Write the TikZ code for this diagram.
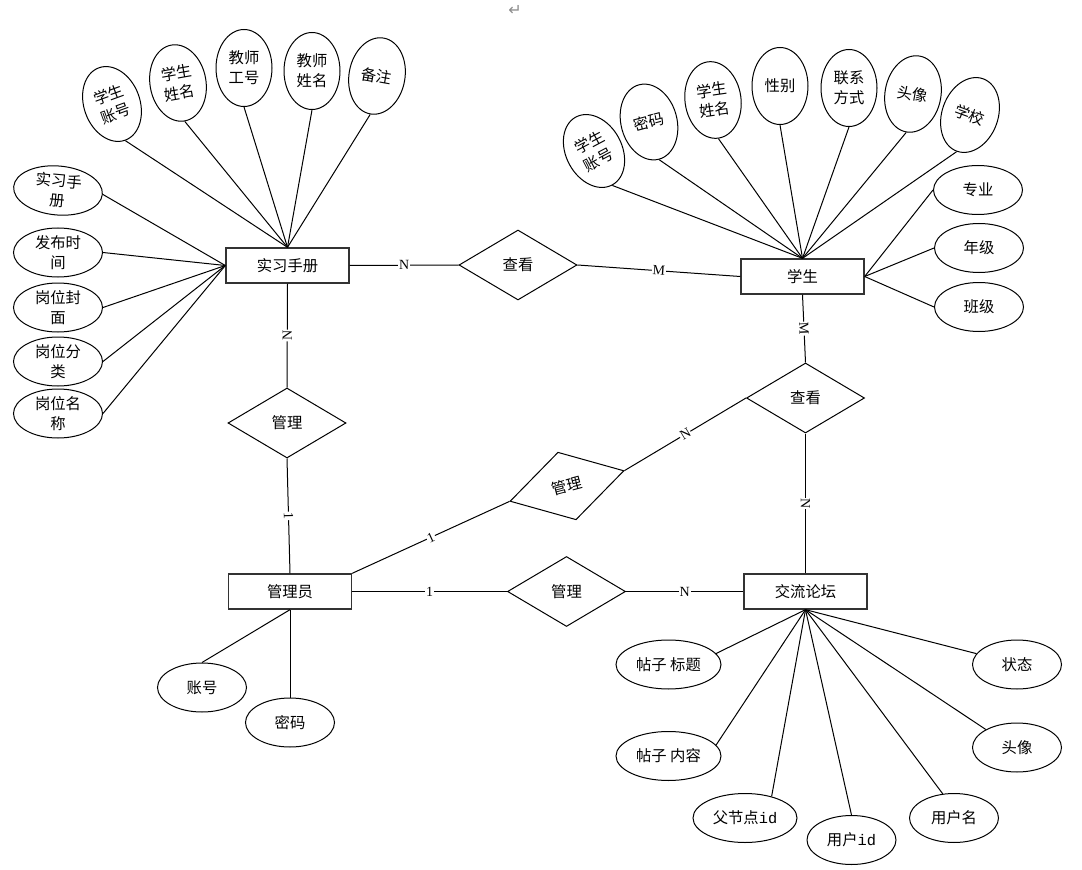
\documentclass[tikz,border=0pt]{standalone}
\usepackage{fontspec}
\setmainfont{Liberation Serif}
\setmonofont{Liberation Mono}
\newfontfamily\cjk{Noto Sans CJK SC}
\newfontfamily\dejavu{DejaVu Sans}
\usetikzlibrary{shapes.geometric}
\begin{document}
\begin{tikzpicture}[x=0.75pt,y=-0.75pt,line width=0.75pt,
  cjkfont/.style={font=\cjk\fontsize{11.5}{15}\selectfont},
  ent/.style={draw=black!80, line width=1pt, rectangle, minimum width=92.25pt, minimum height=26.25pt, inner sep=0pt, cjkfont},
  rel/.style={draw, diamond, minimum width=88.5pt, minimum height=52.5pt, inner sep=0pt, aspect=1.69, cjkfont},
  attrv/.style={draw, ellipse, minimum width=42pt, minimum height=57.75pt, inner sep=0pt, align=center, cjkfont},
  attrh/.style={draw, ellipse, minimum width=66.75pt, minimum height=36.75pt, inner sep=0pt, align=center, cjkfont},
  lbl/.style={fill=white, inner sep=0.6pt, sloped, font=\fontsize{10.5}{10.5}\selectfont}
]
\useasboundingbox (0,0) rectangle (1082,870);

% return mark
\node[text=black!45, font=\dejavu\fontsize{12}{12}\selectfont] (ret) at (515,10) {↵};

% entities
\node[ent] (manual) at (287.5,265.5) {实习手册};
\node[ent] (student) at (802.5,276.5) {学生};
\node[ent] (admin) at (290,591.5) {管理员};
\node[ent] (forum) at (805.5,591.5) {交流论坛};

% relationships
\node[rel] (see1) at (518,265) {查看};
\node[rel] (see2) at (805.5,398) {查看};
\node[rel] (mg1) at (287,423) {管理};
\node[rel, rotate=15] (mg2) at (567,486) {管理};
\node[rel] (mg3) at (566.5,591.5) {管理};

% attributes of 实习手册 (top)
\node[attrv, rotate=20] (m1) at (112,104) {学生\\账号};
\node[attrv, rotate=10] (m2) at (178,83) {学生\\姓名};
\node[attrv] (m3) at (244,68) {教师\\工号};
\node[attrv] (m4) at (312,71) {教师\\姓名};
\node[attrv, rotate=-10] (m5) at (377,76) {备注};

% attributes of 实习手册 (left)
\node[attrh, rotate=-5] (l1) at (58,190.5) {实习手\\册};
\node[attrh] (l2) at (58,252.5) {发布时\\间};
\node[attrh] (l3) at (58,307.5) {岗位封\\面};
\node[attrh] (l4) at (58,361.5) {岗位分\\类};
\node[attrh] (l5) at (58,413.5) {岗位名\\称};

% attributes of 学生
\node[attrv, rotate=28] (s1) at (594,151) {学生\\账号};
\node[attrv, rotate=15] (s2) at (649,122) {密码};
\node[attrv, rotate=8] (s3) at (713,100) {学生\\姓名};
\node[attrv] (s4) at (780,86) {性别};
\node[attrv] (s5) at (849,88) {联系\\方式};
\node[attrv, rotate=-10] (s6) at (913,94) {头像};
\node[attrv, rotate=-20] (s7) at (970,115) {学校};
\node[attrh] (s8) at (978,190) {专业};
\node[attrh] (s9) at (979,248) {年级};
\node[attrh] (s10) at (979,307) {班级};

% attributes of 管理员
\node[attrh] (a1) at (202,687.5) {账号};
\node[attrh] (a2) at (290,722.5) {密码};

% attributes of 交流论坛
\node[attrh, minimum width=78.75pt] (f1) at (668.5,664.5) {帖子 标题};
\node[attrh, minimum width=78.75pt] (f2) at (668.5,756) {帖子 内容};
\node[attrh, minimum width=78pt] (f3) at (745,818) {父节点{\ttfamily id}};
\node[attrh] (f4) at (851.5,840) {用户{\ttfamily id}};
\node[attrh] (f5) at (954,818) {用户名};
\node[attrh] (f6) at (1017,747.5) {头像};
\node[attrh] (f7) at (1017,664.5) {状态};

% attribute connectors
\foreach \n in {m1,m2,m3,m4,m5} \draw (\n.south) -- (manual.north);
\foreach \n in {l1,l2,l3,l4,l5} \draw (\n.east) -- (manual.west);
\foreach \n in {s1,s2,s3,s4,s5,s6,s7} \draw (\n.south) -- (student.north);
\foreach \n in {s8,s9,s10} \draw (\n.west) -- (student.east);
\draw (a1.north) -- (admin.south);
\draw (a2.north) -- (admin.south);
\draw (f1.13) -- (forum.south);
\draw (f2.13) -- (forum.south);
\draw (f3.39) -- (forum.south);
\draw (f4.north) -- (forum.south);
\draw (f5.115) -- (forum.south);
\draw (f6.150) -- (forum.south);
\draw (f7.165) -- (forum.south);

% relationship connectors
\draw (manual.east) -- node[lbl] {N} (see1.west);
\draw (see1.east) -- node[lbl] {M} (student.west);
\draw (manual.south) -- node[lbl] {N} (mg1.north);
\draw (mg1.south) -- node[lbl] {1} (admin.north);
\draw (admin.north east) -- node[lbl] {1} (mg2.west);
\draw (mg2.east) -- node[lbl] {N} (see2.west);
\draw (admin.east) -- node[lbl] {1} (mg3.west);
\draw (mg3.east) -- node[lbl] {N} (forum.west);
\draw (student.south) -- node[lbl] {M} (see2.north);
\draw (see2.south) -- node[lbl] {N} (forum.north);
\end{tikzpicture}
\end{document}
